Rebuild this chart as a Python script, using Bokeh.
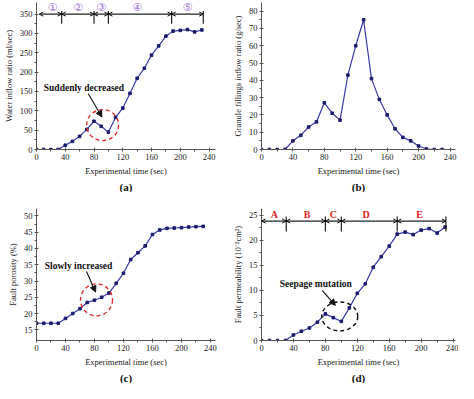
from bokeh.plotting import figure
from bokeh.layouts import gridplot
from bokeh.models import (Range1d, FixedTicker, Title, Arrow, OpenHead, NormalHead,
                          ColumnDataSource, Label)
from bokeh.embed import file_html
from bokeh.resources import INLINE
from bokeh.core.properties import value

# ---------------- data ----------------
time = [0, 10, 20, 30, 40, 50, 60, 70, 80, 90, 100, 110, 120, 130, 140, 150,
        160, 170, 180, 190, 200, 210, 220, 230]
water = [0, 0, 0, 0, 11, 21, 34, 52, 73, 60, 45, 83, 107, 145, 184, 210,
         244, 268, 293, 306, 308, 310, 304, 309]
granule = [0, 0, 0, 0, 5, 8.2, 13, 16, 27, 21, 17, 43, 60, 75, 41, 29,
           20, 12, 7, 5, 2, 0.3, 0, 0]
porosity = [17, 17, 17, 17, 18.5, 20, 21.5, 23.4, 24.1, 25, 26.3, 29.3, 32.4, 36.6,
            38.7, 40.8, 44.3, 45.7, 46.2, 46.3, 46.4, 46.6, 46.7, 46.8]
perm = [0, 0, 0, 0, 1.1, 1.85, 2.5, 3.65, 5.3, 4.55, 3.8, 6.5, 9.4, 11.3, 14.6,
        16.7, 18.8, 21.2, 21.6, 21.1, 22.0, 22.3, 21.4, 22.6]

x_ticks = [0, 40, 80, 120, 160, 200, 240]
a_yticks = [0, 50, 100, 150, 200, 250, 300, 350]
b_yticks = [0, 10, 20, 30, 40, 50, 60, 70, 80]
c_yticks = [15, 20, 25, 30, 35, 40, 45, 50]
d_yticks = [0, 5, 10, 15, 20, 25]

a_bounds = [3.8, 35, 80, 100, 188, 232]
a_labels = ["①", "②", "③", "④", "⑤"]
a_label_x = [22, 58, 90, 140, 210]
d_bounds = [0, 31, 80, 100, 170, 231]
d_labels = ["A", "B", "C", "D", "E"]
d_label_x = [16, 57, 90, 131, 198]

SERIF = "Liberation Serif"
LINE = "#3a3aa6"
DOT = "#1c1c70"


def make(width, height, xr, yr, yticks, ylabel, tag, mb):
    p = figure(width=width, height=height, output_backend="svg", toolbar_location=None,
               x_range=Range1d(*xr), y_range=Range1d(*yr),
               min_border_left=mb[0], min_border_right=mb[1],
               min_border_top=mb[2], min_border_bottom=mb[3])
    p.grid.visible = False
    p.outline_line_color = None
    p.background_fill_color = "white"
    p.xaxis.ticker = FixedTicker(ticks=x_ticks, minor_ticks=[20, 60, 100, 140, 180, 220])
    minors = [(yticks[i] + yticks[i + 1]) / 2 for i in range(len(yticks) - 1)]
    p.yaxis.ticker = FixedTicker(ticks=yticks, minor_ticks=minors)
    for ax in (p.xaxis[0], p.yaxis[0]):
        ax.major_label_text_font = SERIF
        ax.major_label_text_font_size = "8.5px"
        ax.major_label_text_color = "#222222"
        ax.axis_label_text_font = SERIF
        ax.axis_label_text_font_size = "8.5px"
        ax.axis_label_text_font_style = "normal"
        ax.axis_label_text_color = "#222222"
        ax.axis_line_color = "#555555"
        ax.major_tick_line_color = "#555555"
        ax.minor_tick_line_color = "#555555"
        ax.major_tick_in = 2
        ax.major_tick_out = 2
        ax.minor_tick_in = 0
        ax.minor_tick_out = 2
        ax.major_label_standoff = 2
        ax.axis_label_standoff = 3
    p.xaxis.axis_label = "Experimental time (sec)"
    p.yaxis.axis_label = ylabel
    p.add_layout(Title(text=tag, align="center", text_font=SERIF, text_font_size="11px",
                       text_font_style="bold", text_color="#111111", standoff=0, offset=0),
                 "below")
    return p


def series(p, ys):
    p.line(time, ys, line_color=LINE, line_width=1.2)
    p.scatter(time, ys, marker="square", size=2.6, color=DOT)


# (a)
pa = make(229, 192, (0, 249), (0, 380), a_yticks, "Water inflow ratio (ml/sec)", "(a)",
          (26, 12, 1, 38))
series(pa, water)
pa.segment(x0=a_bounds[1:], y0=[325] * 5, x1=a_bounds[1:], y1=[358] * 5,
           line_color="#222222", line_width=1.2)
pa.add_layout(Arrow(source=ColumnDataSource(dict(x0=a_bounds[:-1], x1=a_bounds[1:],
                                                 y=[350] * 5)),
                    x_start="x0", y_start="y", x_end="x1", y_end="y",
                    start=OpenHead(size=4, line_width=1), end=OpenHead(size=4, line_width=1),
                    line_width=1.2, line_color="#222222"))
pa.text(x=a_label_x, y=[366] * 5, text=a_labels, text_align="center",
        text_baseline="middle", text_font=value("DejaVu Sans"), text_font_size="11px",
        text_color="#9b6fd6")
pa.ellipse(x=[92], y=[63], width=[32], height=[31], width_units="screen",
           height_units="screen", fill_alpha=0, line_color="#e03030", line_dash="4 3",
           line_width=1.4)
pa.add_layout(Arrow(x_start=72, y_start=144, x_end=91, y_end=84,
                    end=NormalHead(size=6, fill_color="#111111", line_color="#111111"),
                    line_width=1.1, line_color="#111111"))
pa.add_layout(Label(x=66, y=158, text="Suddenly decreased", text_align="center",
                    text_baseline="middle", text_font=SERIF, text_font_size="9.5px",
                    text_font_style="bold", text_color="#111111"))

# (b)
pb = make(229, 192, (0, 247), (0, 85), b_yticks, "Granule fillings inflow ratio (g/sec)",
          "(b)", (32, 3, 2, 38))
series(pb, granule)

# (c)
pc = make(229, 191, (0, 247), (11.7, 52.3), c_yticks, "Fault porosity (%)", "(c)",
          (29, 14, 16, 33))
series(pc, porosity)
pc.ellipse(x=[82.8], y=[24.2], width=[32], height=[32], width_units="screen",
           height_units="screen", fill_alpha=0, line_color="#e03030", line_dash="4 3",
           line_width=1.4)
pc.add_layout(Arrow(x_start=69, y_start=32.9, x_end=81.5, y_end=26.6,
                    end=NormalHead(size=6, fill_color="#111111", line_color="#111111"),
                    line_width=1.1, line_color="#111111"))
pc.add_layout(Label(x=58, y=34.7, text="Slowly increased", text_align="center",
                    text_baseline="middle", text_font=SERIF, text_font_size="9.5px",
                    text_font_style="bold", text_color="#111111"))

# (d)
pd = make(229, 191, (0, 243), (0, 26.3), d_yticks, "Fault permeability (10⁻²cm²)", "(d)",
          (32, 3, 5, 33))
series(pd, perm)
pd.segment(x0=d_bounds[1:], y0=[21.7] * 5, x1=d_bounds[1:], y1=[24.7] * 5,
           line_color="#222222", line_width=1.2)
pd.add_layout(Arrow(source=ColumnDataSource(dict(x0=d_bounds[:-1], x1=d_bounds[1:],
                                                 y=[23.8] * 5)),
                    x_start="x0", y_start="y", x_end="x1", y_end="y",
                    start=OpenHead(size=4, line_width=1), end=OpenHead(size=4, line_width=1),
                    line_width=1.2, line_color="#222222"))
pd.text(x=d_label_x, y=[25.1] * 5, text=d_labels, text_align="center",
        text_baseline="middle", text_font=value(SERIF), text_font_size="10px",
        text_font_style="bold", text_color="#e02020")
pd.ellipse(x=[98], y=[4.8], width=[36], height=[29], width_units="screen",
           height_units="screen", fill_alpha=0, line_color="#111111", line_dash="4 3",
           line_width=1.4)
pd.add_layout(Arrow(x_start=76, y_start=10, x_end=92.5, y_end=7.0,
                    end=NormalHead(size=6, fill_color="#111111", line_color="#111111"),
                    line_width=1.1, line_color="#111111"))
pd.add_layout(Label(x=68, y=11.2, text="Seepage mutation", text_align="center",
                    text_baseline="middle", text_font=SERIF, text_font_size="9.5px",
                    text_font_style="bold", text_color="#111111"))

grid = gridplot([[pa, pb], [pc, pd]], toolbar_location=None)
open("out.html", "w").write(file_html(grid, INLINE))
